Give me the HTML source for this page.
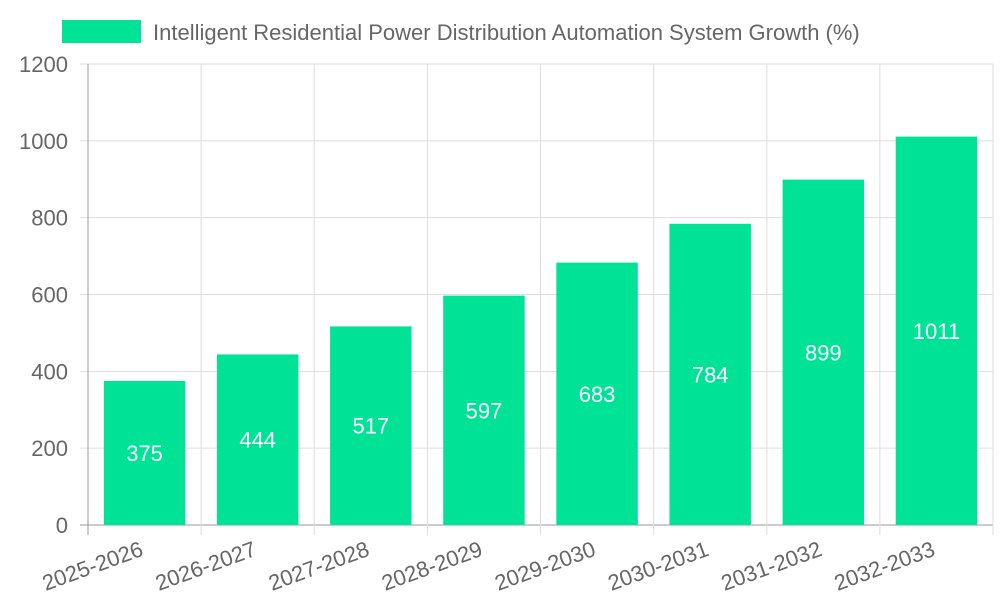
<!DOCTYPE html>
<html><head><meta charset="utf-8"><style>
body{margin:0;background:#fff;font-family:"Liberation Sans",sans-serif}
</style></head><body>
<svg id="c" width="1000" height="600" xmlns="http://www.w3.org/2000/svg"></svg>
<script>
const categories=["2025-2026","2026-2027","2027-2028","2028-2029","2029-2030","2030-2031","2031-2032","2032-2033"];
const values=[375,444,517,597,683,784,899,1011];
const yTicks=[0,200,400,600,800,1000,1200];
const seriesName="Intelligent Residential Power Distribution Automation System Growth (%)";
const svg=document.getElementById('c');const NS="http://www.w3.org/2000/svg";
const L=88,R=993,T=64,B=525,yMax=1200;
const y=v=>B-(v/yMax)*(B-T);
const bw=(R-L)/categories.length;
const x=i=>L+i*bw;
function mk(t,a,txt){const e=document.createElementNS(NS,t);for(const k in a)e.setAttribute(k,a[k]);if(txt!==undefined)e.textContent=txt;svg.appendChild(e);return e;}
yTicks.forEach(t=>{
 const g=mk('line',{x1:L-8,x2:R,y1:y(t),y2:y(t),stroke:t===0?'#999':'#ddd','stroke-width':1});
 
 const l=mk('text',{x:L-20,y:y(t)+8,'text-anchor':'end','font-size':22,fill:'#666'},t);
 
});
for(let i=0;i<=categories.length;i++){
 const g=mk('line',{x1:x(i),x2:x(i),y1:T,y2:B+10,stroke:i===0?'#999':'#ddd','stroke-width':1});
 
}
categories.forEach((c,i)=>{
 const cx=x(i)+bw/2,w=bw*0.72;
 const r=mk('rect',{x:cx-w/2,y:y(values[i]),width:w,height:B-y(values[i]),fill:'#00e396'});
 
 const v=mk('text',{x:cx,y:(y(values[i])+B)/2+8,'text-anchor':'middle','font-size':22,fill:'#fff'},values[i]);
 
 const t=mk('text',{x:cx,y:B+30,'text-anchor':'end','font-size':22,fill:'#666',transform:`rotate(-20 ${cx} ${B+30})`},c);
 
});
const lb=mk('rect',{x:62,y:20,width:79,height:23,fill:'#00e396'});

const lt=mk('text',{x:153,y:40,'font-size':22,fill:'#666'},seriesName);

</script>
</body></html>
